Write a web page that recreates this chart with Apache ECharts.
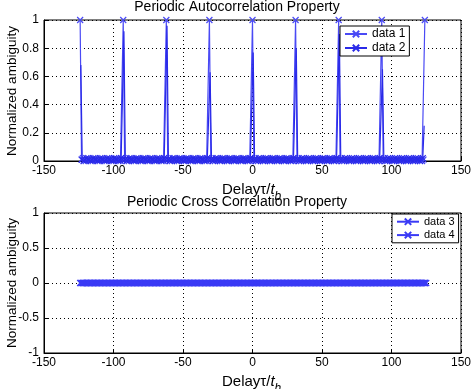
<!DOCTYPE html>
<html><head><meta charset="utf-8">
<script src="https://cdn.jsdelivr.net/npm/echarts@6/dist/echarts.min.js"></script>
<style>html,body{margin:0;padding:0;background:#fff}#c{width:474px;height:389px}</style>
</head><body><div id="c"></div>
<script>
// ---- data ----
var xTicks = [-150, -100, -50, 0, 50, 100, 150];
var yTicksTop = [0, 0.2, 0.4, 0.6, 0.8, 1];
var yTicksBottom = [-1, -0.5, 0, 0.5, 1];
var data1Start = -124; // delays step 1
var data1 = [
1,0.01,0.02,0.01,0,0.01,0.02,0.01,0.01,0,0.01,0.02,0.01,0.01,0,0.01,0.02,0.01,0.01,0,0.01,0.02,0.01,0.01,0,0.01,0.02,0.01,0.01,0,0.01,
1,0.01,0.02,0.01,0,0.01,0.02,0.01,0.01,0,0.01,0.02,0.01,0.01,0,0.01,0.02,0.01,0.01,0,0.01,0.02,0.01,0.01,0,0.01,0.02,0.01,0.01,0,0.01,
1,0.01,0.02,0.01,0,0.01,0.02,0.01,0.01,0,0.01,0.02,0.01,0.01,0,0.01,0.02,0.01,0.01,0,0.01,0.02,0.01,0.01,0,0.01,0.02,0.01,0.01,0,0.01,
1,0.01,0.02,0.01,0,0.01,0.02,0.01,0.01,0,0.01,0.02,0.01,0.01,0,0.01,0.02,0.01,0.01,0,0.01,0.02,0.01,0.01,0,0.01,0.02,0.01,0.01,0,0.01,
1,0.01,0.02,0.01,0,0.01,0.02,0.01,0.01,0,0.01,0.02,0.01,0.01,0,0.01,0.02,0.01,0.01,0,0.01,0.02,0.01,0.01,0,0.01,0.02,0.01,0.01,0,0.01,
1,0.01,0.02,0.01,0,0.01,0.02,0.01,0.01,0,0.01,0.02,0.01,0.01,0,0.01,0.02,0.01,0.01,0,0.01,0.02,0.01,0.01,0,0.01,0.02,0.01,0.01,0,0.01,
1,0.01,0.02,0.01,0,0.01,0.02,0.01,0.01,0,0.01,0.02,0.01,0.01,0,0.01,0.02,0.01,0.01,0,0.01,0.02,0.01,0.01,0,0.01,0.02,0.01,0.01,0,0.01,
1,0.01,0.02,0.01,0,0.01,0.02,0.01,0.01,0,0.01,0.02,0.01,0.01,0,0.01,0.02,0.01,0.01,0,0.01,0.02,0.01,0.01,0,0.01,0.02,0.01,0.01,0,0.01,
1];
var data2Start = -123.5; // delays step 1
var data2 = [
0.68,0.01,0,0.01,0.02,0.01,0.01,0,0.01,0.02,0.01,0.01,0,0.01,0.02,0.01,0.01,0,0.01,0.02,0.01,0.01,0,0.01,0.02,0.01,0.01,0,0.01,0.02,0.01,
0.92,0.01,0,0.01,0.02,0.01,0.01,0,0.01,0.02,0.01,0.01,0,0.01,0.02,0.01,0.01,0,0.01,0.02,0.01,0.01,0,0.01,0.02,0.01,0.01,0,0.01,0.02,0.01,
0.96,0.01,0,0.01,0.02,0.01,0.01,0,0.01,0.02,0.01,0.01,0,0.01,0.02,0.01,0.01,0,0.01,0.02,0.01,0.01,0,0.01,0.02,0.01,0.01,0,0.01,0.02,0.01,
0.63,0.01,0,0.01,0.02,0.01,0.01,0,0.01,0.02,0.01,0.01,0,0.01,0.02,0.01,0.01,0,0.01,0.02,0.01,0.01,0,0.01,0.02,0.01,0.01,0,0.01,0.02,0.01,
0.77,0.01,0,0.01,0.02,0.01,0.01,0,0.01,0.02,0.01,0.01,0,0.01,0.02,0.01,0.01,0,0.01,0.02,0.01,0.01,0,0.01,0.02,0.01,0.01,0,0.01,0.02,0.01,
0.8,0.01,0,0.01,0.02,0.01,0.01,0,0.01,0.02,0.01,0.01,0,0.01,0.02,0.01,0.01,0,0.01,0.02,0.01,0.01,0,0.01,0.02,0.01,0.01,0,0.01,0.02,0.01,
0.9,0.01,0,0.01,0.02,0.01,0.01,0,0.01,0.02,0.01,0.01,0,0.01,0.02,0.01,0.01,0,0.01,0.02,0.01,0.01,0,0.01,0.02,0.01,0.01,0,0.01,0.02,0.01,
0.65,0.01,0,0.01,0.02,0.01,0.01,0,0.01,0.02,0.01,0.01,0,0.01,0.02,0.01,0.01,0,0.01,0.02,0.01,0.01,0,0.01,0.02,0.01,0.01,0,0.01,0.02,
0.25];
var data3Start = -124;
var data3 = [
0,0,0,0,0,0,0,0,0,0,0,0,0,0,0,0,0,0,0,0,0,0,0,0,0,0,0,0,0,0,0,0,0,0,0,0,0,0,0,0,0,0,0,0,0,0,0,0,0,0,
0,0,0,0,0,0,0,0,0,0,0,0,0,0,0,0,0,0,0,0,0,0,0,0,0,0,0,0,0,0,0,0,0,0,0,0,0,0,0,0,0,0,0,0,0,0,0,0,0,0,
0,0,0,0,0,0,0,0,0,0,0,0,0,0,0,0,0,0,0,0,0,0,0,0,0,0,0,0,0,0,0,0,0,0,0,0,0,0,0,0,0,0,0,0,0,0,0,0,0,0,
0,0,0,0,0,0,0,0,0,0,0,0,0,0,0,0,0,0,0,0,0,0,0,0,0,0,0,0,0,0,0,0,0,0,0,0,0,0,0,0,0,0,0,0,0,0,0,0,0,0,
0,0,0,0,0,0,0,0,0,0,0,0,0,0,0,0,0,0,0,0,0,0,0,0,0,0,0,0,0,0,0,0,0,0,0,0,0,0,0,0,0,0,0,0,0,0,0,0,0];
var data4Start = -123;
var data4 = [
0,0,0,0,0,0,0,0,0,0,0,0,0,0,0,0,0,0,0,0,0,0,0,0,0,0,0,0,0,0,0,0,0,0,0,0,0,0,0,0,0,0,0,0,0,0,0,0,0,0,
0,0,0,0,0,0,0,0,0,0,0,0,0,0,0,0,0,0,0,0,0,0,0,0,0,0,0,0,0,0,0,0,0,0,0,0,0,0,0,0,0,0,0,0,0,0,0,0,0,0,
0,0,0,0,0,0,0,0,0,0,0,0,0,0,0,0,0,0,0,0,0,0,0,0,0,0,0,0,0,0,0,0,0,0,0,0,0,0,0,0,0,0,0,0,0,0,0,0,0,0,
0,0,0,0,0,0,0,0,0,0,0,0,0,0,0,0,0,0,0,0,0,0,0,0,0,0,0,0,0,0,0,0,0,0,0,0,0,0,0,0,0,0,0,0,0,0,0,0,0,0,
0,0,0,0,0,0,0,0,0,0,0,0,0,0,0,0,0,0,0,0,0,0,0,0,0,0,0,0,0,0,0,0,0,0,0,0,0,0,0,0,0,0,0,0,0,0,0,0,0];

function pairs(start, ys){ return ys.map(function(y,i){ return [start+i, y]; }); }

var FONT = '"Liberation Sans", Arial, sans-serif';
var XMARK = 'path://M0,0L10,10M10,0L0,10';

function mkX(gi){
  return {
    type:'value', gridIndex:gi, min:xTicks[0], max:xTicks[xTicks.length-1], interval:50,
    axisLine:{show:true, onZero:false, lineStyle:{color:'#000', width:1}},
    axisTick:{show:true, inside:true, length:4, lineStyle:{color:'#000'}},
    axisLabel:{color:'#000', fontFamily:FONT, fontSize:12, margin:4},
    splitLine:{show:true, lineStyle:{color:'#000', type:[1,3], width:1}}
  };
}
function mkY(gi, ticks, interval){
  return {
    type:'value', gridIndex:gi, min:ticks[0], max:ticks[ticks.length-1], interval:interval,
    axisLine:{show:true, onZero:false, lineStyle:{color:'#000', width:1}},
    axisTick:{show:true, inside:true, length:4, lineStyle:{color:'#000'}},
    axisLabel:{color:'#000', fontFamily:FONT, fontSize:12, margin:5},
    splitLine:{show:true, lineStyle:{color:'#000', type:[1,3], width:1}}
  };
}
function ser(name, gi, data, color, hideHigh){
  return {
    name:name, type:'line', xAxisIndex:gi, yAxisIndex:gi, data:data,
    symbol:XMARK, showAllSymbol:true, animation:false,
    symbolSize: hideHigh ? function(v){ return v[1] > 0.1 ? 0 : 6; } : 6,
    lineStyle:{color:color, width:1.2},
    itemStyle:{color:'none', borderColor:color, borderWidth:1.2}
  };
}

var chart = echarts.init(document.getElementById('c'), null, {renderer:'canvas'});
chart.setOption({
  animation:false,
  backgroundColor:'#fff',
  grid:[
    {left:44, right:8, top:20, height:141, show:true, borderColor:'#000', borderWidth:1, backgroundColor:'#fff'},
    {left:44, right:8, top:213, height:140, show:true, borderColor:'#000', borderWidth:1, backgroundColor:'#fff'}
  ],
  xAxis:[mkX(0), mkX(1)],
  yAxis:[mkY(0, yTicksTop, 0.2), mkY(1, yTicksBottom, 0.5)],
  legend:[
    {data:['data 1','data 2'], left:340, top:26, orient:'vertical', itemGap:2, itemWidth:22, itemHeight:8,
     backgroundColor:'#fff', borderColor:'#000', borderWidth:1, padding:[2,4,2,4],
     textStyle:{fontFamily:FONT, fontSize:12, color:'#000'}},
    {data:['data 3','data 4'], left:392, top:214, orient:'vertical', itemGap:2, itemWidth:22, itemHeight:8,
     backgroundColor:'#fff', borderColor:'#000', borderWidth:1, padding:[2,4,2,4],
     textStyle:{fontFamily:FONT, fontSize:11, color:'#000'}}
  ],
  series:[
    ser('data 1', 0, pairs(data1Start, data1), '#4a4af5', false),
    ser('data 2', 0, pairs(data2Start, data2), '#2a2ae8', true),
    ser('data 3', 1, pairs(data3Start, data3), '#3a3af5', false),
    ser('data 4', 1, pairs(data4Start, data4), '#3a3af5', false)
  ],
  graphic:[
    {type:'text', left:'center', top:0, style:{text:'Periodic Autocorrelation Property', font:'14px '+FONT, fill:'#000'}},
    {type:'text', left:'center', top:195, style:{text:'Periodic Cross Correlation Property', font:'14px '+FONT, fill:'#000'}},
    {type:'text', x:222, y:177, style:{text:'Delayτ/{i|t}{s|b}', font:'15px '+FONT, fill:'#000',
      rich:{i:{fontStyle:'italic', fontSize:15, fontFamily:FONT}, s:{fontStyle:'italic', fontSize:12, fontFamily:FONT, padding:[14,0,0,0]}}}},
    {type:'text', x:222, y:369, style:{text:'Delayτ/{i|t}{s|h}', font:'15px '+FONT, fill:'#000',
      rich:{i:{fontStyle:'italic', fontSize:15, fontFamily:FONT}, s:{fontStyle:'italic', fontSize:12, fontFamily:FONT, padding:[14,0,0,0]}}}},
    {type:'text', x:12, y:91, rotation:Math.PI/2, style:{text:'Normalized ambiguity', font:'13.5px '+FONT, fill:'#000', align:'center', verticalAlign:'middle'}},
    {type:'text', x:12, y:283, rotation:Math.PI/2, style:{text:'Normalized ambiguity', font:'13.5px '+FONT, fill:'#000', align:'center', verticalAlign:'middle'}}
  ]
});
</script></body></html>
